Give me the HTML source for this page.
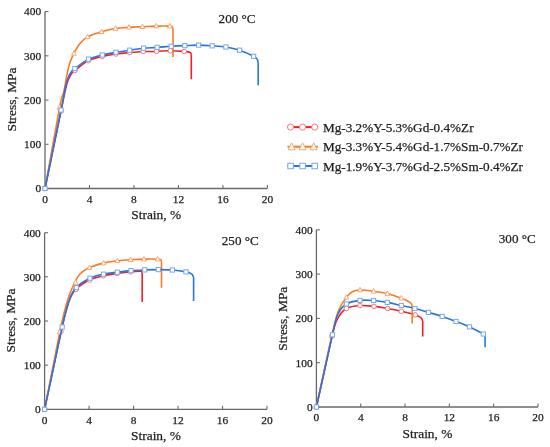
<!DOCTYPE html>
<html><head><meta charset="utf-8"><style>
html,body{margin:0;padding:0;background:#fff;}
svg{display:block;}
text{font-family:"Liberation Serif", "Times New Roman", serif;fill:#1e1e1e;stroke:#1e1e1e;stroke-width:0.25px;}
.tk{font-size:11.4px;}
.ax{font-size:13.4px;}
.tt{font-size:13.1px;}
.lg{font-size:13.2px;}
</style></head><body>
<svg width="550" height="447" viewBox="0 0 550 447">
<rect width="550" height="447" fill="#fff"/>
<path d="M45.00,11.60 L45.00,188.50 L267.40,188.50" fill="none" stroke="#6a6a6a" stroke-width="1.3"/>
<line x1="45.00" y1="188.50" x2="48.50" y2="188.50" stroke="#6a6a6a" stroke-width="1.1"/>
<text transform="translate(41.20,192.30) scale(1,1.000)" text-anchor="end" class="tk">0</text>
<line x1="45.00" y1="144.28" x2="48.50" y2="144.28" stroke="#6a6a6a" stroke-width="1.1"/>
<text transform="translate(41.20,148.08) scale(1,1.000)" text-anchor="end" class="tk">100</text>
<line x1="45.00" y1="100.05" x2="48.50" y2="100.05" stroke="#6a6a6a" stroke-width="1.1"/>
<text transform="translate(41.20,103.85) scale(1,1.000)" text-anchor="end" class="tk">200</text>
<line x1="45.00" y1="55.82" x2="48.50" y2="55.82" stroke="#6a6a6a" stroke-width="1.1"/>
<text transform="translate(41.20,59.62) scale(1,1.000)" text-anchor="end" class="tk">300</text>
<line x1="45.00" y1="11.60" x2="48.50" y2="11.60" stroke="#6a6a6a" stroke-width="1.1"/>
<text transform="translate(41.20,15.40) scale(1,1.000)" text-anchor="end" class="tk">400</text>
<line x1="45.00" y1="188.50" x2="45.00" y2="185.00" stroke="#6a6a6a" stroke-width="1.1"/>
<text transform="translate(45.00,202.80) scale(1,1.000)" text-anchor="middle" class="tk">0</text>
<line x1="89.48" y1="188.50" x2="89.48" y2="185.00" stroke="#6a6a6a" stroke-width="1.1"/>
<text transform="translate(89.48,202.80) scale(1,1.000)" text-anchor="middle" class="tk">4</text>
<line x1="133.96" y1="188.50" x2="133.96" y2="185.00" stroke="#6a6a6a" stroke-width="1.1"/>
<text transform="translate(133.96,202.80) scale(1,1.000)" text-anchor="middle" class="tk">8</text>
<line x1="178.44" y1="188.50" x2="178.44" y2="185.00" stroke="#6a6a6a" stroke-width="1.1"/>
<text transform="translate(178.44,202.80) scale(1,1.000)" text-anchor="middle" class="tk">12</text>
<line x1="222.92" y1="188.50" x2="222.92" y2="185.00" stroke="#6a6a6a" stroke-width="1.1"/>
<text transform="translate(222.92,202.80) scale(1,1.000)" text-anchor="middle" class="tk">16</text>
<line x1="267.40" y1="188.50" x2="267.40" y2="185.00" stroke="#6a6a6a" stroke-width="1.1"/>
<text transform="translate(267.40,202.80) scale(1,1.000)" text-anchor="middle" class="tk">20</text>
<text transform="translate(156.20,218.70) scale(1,1.000)" text-anchor="middle" class="ax">Strain, %</text>
<text transform="translate(15.70,99.55) rotate(-90) scale(1,1.000)" text-anchor="middle" class="ax">Stress, MPa</text>
<text transform="translate(218.60,22.90) scale(1,1.000)" text-anchor="start" class="tt">200 °C</text>
<path d="M45.00,188.50 L61.00,111.00 C64.27,95.17 63.60,98.08 64.60,93.50 C65.60,88.92 66.17,86.25 67.00,83.50 C67.83,80.75 68.73,78.78 69.60,77.00 C70.47,75.22 71.32,73.88 72.20,72.80 C73.08,71.72 72.22,72.53 74.90,70.50 C77.58,68.47 83.75,62.93 88.30,60.60 C92.85,58.27 97.60,57.60 102.20,56.50 C106.80,55.40 111.32,54.67 115.90,54.00 C120.48,53.33 125.17,52.92 129.70,52.50 C134.23,52.08 138.62,51.68 143.10,51.50 C147.58,51.32 152.05,51.53 156.60,51.40 C161.15,51.27 165.80,50.70 170.40,50.70 C175.00,50.70 180.95,51.13 184.20,51.40 C187.45,51.67 188.72,51.78 189.90,52.30 C191.08,52.82 191.07,54.13 191.30,54.50 M191.30,54.50 C191.30,58.63 191.30,75.17 191.30,79.30" fill="none" stroke="#fa1c24" stroke-width="1.60" stroke-linejoin="round" stroke-linecap="butt"/>
<circle cx="45.00" cy="188.50" r="2.30" fill="#fff" stroke="#f47a7a" stroke-width="1"/>
<circle cx="61.00" cy="111.00" r="2.30" fill="#fff" stroke="#f47a7a" stroke-width="1"/>
<circle cx="74.90" cy="70.50" r="2.30" fill="#fff" stroke="#f47a7a" stroke-width="1"/>
<circle cx="88.30" cy="60.60" r="2.30" fill="#fff" stroke="#f47a7a" stroke-width="1"/>
<circle cx="102.20" cy="56.50" r="2.30" fill="#fff" stroke="#f47a7a" stroke-width="1"/>
<circle cx="115.90" cy="54.00" r="2.30" fill="#fff" stroke="#f47a7a" stroke-width="1"/>
<circle cx="129.70" cy="52.50" r="2.30" fill="#fff" stroke="#f47a7a" stroke-width="1"/>
<circle cx="143.10" cy="51.50" r="2.30" fill="#fff" stroke="#f47a7a" stroke-width="1"/>
<circle cx="156.60" cy="51.40" r="2.30" fill="#fff" stroke="#f47a7a" stroke-width="1"/>
<circle cx="170.40" cy="50.70" r="2.30" fill="#fff" stroke="#f47a7a" stroke-width="1"/>
<circle cx="184.20" cy="51.40" r="2.30" fill="#fff" stroke="#f47a7a" stroke-width="1"/>
<path d="M45.00,188.50 L59.50,108.00 C62.62,91.90 62.55,97.19 63.75,91.90 C64.95,86.61 65.74,80.94 66.70,76.25 C67.66,71.56 68.30,67.56 69.50,63.75 C70.70,59.94 72.15,56.77 73.90,53.40 C75.65,50.02 77.72,46.25 80.00,43.50 C82.28,40.75 84.00,38.85 87.60,36.90 C91.20,34.95 96.95,33.20 101.60,31.80 C106.25,30.40 110.93,29.25 115.50,28.50 C120.07,27.75 124.52,27.60 129.00,27.30 C133.48,27.00 137.85,26.90 142.40,26.70 C146.95,26.50 151.72,26.20 156.30,26.10 C160.88,26.00 167.22,25.98 169.90,26.10 C172.58,26.22 171.88,26.32 172.40,26.80 C172.92,27.28 172.90,28.63 173.00,29.00 M173.00,29.00 C173.00,33.67 173.00,52.33 173.00,57.00" fill="none" stroke="#fb7a26" stroke-width="1.60" stroke-linejoin="round" stroke-linecap="butt"/>
<path d="M45.00,185.86 L47.40,190.26 L42.60,190.26 Z" fill="#fff" stroke="#f9a86a" stroke-width="1"/>
<path d="M59.50,104.86 L61.90,109.26 L57.10,109.26 Z" fill="#fff" stroke="#f9a86a" stroke-width="1"/>
<path d="M73.90,50.76 L76.30,55.16 L71.50,55.16 Z" fill="#fff" stroke="#f9a86a" stroke-width="1"/>
<path d="M87.60,34.26 L90.00,38.66 L85.20,38.66 Z" fill="#fff" stroke="#f9a86a" stroke-width="1"/>
<path d="M101.60,29.16 L104.00,33.56 L99.20,33.56 Z" fill="#fff" stroke="#f9a86a" stroke-width="1"/>
<path d="M115.50,25.86 L117.90,30.26 L113.10,30.26 Z" fill="#fff" stroke="#f9a86a" stroke-width="1"/>
<path d="M129.00,24.66 L131.40,29.06 L126.60,29.06 Z" fill="#fff" stroke="#f9a86a" stroke-width="1"/>
<path d="M142.40,24.06 L144.80,28.46 L140.00,28.46 Z" fill="#fff" stroke="#f9a86a" stroke-width="1"/>
<path d="M156.30,23.46 L158.70,27.86 L153.90,27.86 Z" fill="#fff" stroke="#f9a86a" stroke-width="1"/>
<path d="M169.90,23.46 L172.30,27.86 L167.50,27.86 Z" fill="#fff" stroke="#f9a86a" stroke-width="1"/>
<path d="M45.00,188.50 L61.10,110.10 C64.33,94.02 63.47,96.68 64.40,92.00 C65.33,87.32 65.88,84.80 66.70,82.00 C67.52,79.20 68.42,77.03 69.30,75.20 C70.18,73.37 71.07,72.10 72.00,71.00 C72.93,69.90 72.15,70.58 74.90,68.60 C77.65,66.62 83.93,61.37 88.50,59.10 C93.07,56.83 97.73,56.13 102.30,55.00 C106.87,53.87 111.33,53.10 115.90,52.30 C120.47,51.50 125.08,50.88 129.70,50.20 C134.32,49.52 139.03,48.67 143.60,48.20 C148.17,47.73 152.50,47.72 157.10,47.40 C161.70,47.08 166.58,46.60 171.20,46.30 C175.82,46.00 180.23,45.80 184.80,45.60 C189.37,45.40 194.03,45.07 198.60,45.10 C203.17,45.13 207.65,45.48 212.20,45.80 C216.75,46.12 221.33,46.27 225.90,47.00 C230.47,47.73 234.98,48.65 239.60,50.20 C244.22,51.75 250.65,54.75 253.60,56.30 C256.55,57.85 256.53,58.30 257.30,59.50 C258.07,60.70 258.05,62.83 258.20,63.50 M258.20,63.50 C258.20,67.13 258.20,81.67 258.20,85.30" fill="none" stroke="#2876dc" stroke-width="1.60" stroke-linejoin="round" stroke-linecap="butt"/>
<rect x="42.90" y="186.40" width="4.20" height="4.20" fill="#fff" stroke="#78a8ea" stroke-width="1"/>
<rect x="59.00" y="108.00" width="4.20" height="4.20" fill="#fff" stroke="#78a8ea" stroke-width="1"/>
<rect x="72.80" y="66.50" width="4.20" height="4.20" fill="#fff" stroke="#78a8ea" stroke-width="1"/>
<rect x="86.40" y="57.00" width="4.20" height="4.20" fill="#fff" stroke="#78a8ea" stroke-width="1"/>
<rect x="100.20" y="52.90" width="4.20" height="4.20" fill="#fff" stroke="#78a8ea" stroke-width="1"/>
<rect x="113.80" y="50.20" width="4.20" height="4.20" fill="#fff" stroke="#78a8ea" stroke-width="1"/>
<rect x="127.60" y="48.10" width="4.20" height="4.20" fill="#fff" stroke="#78a8ea" stroke-width="1"/>
<rect x="141.50" y="46.10" width="4.20" height="4.20" fill="#fff" stroke="#78a8ea" stroke-width="1"/>
<rect x="155.00" y="45.30" width="4.20" height="4.20" fill="#fff" stroke="#78a8ea" stroke-width="1"/>
<rect x="169.10" y="44.20" width="4.20" height="4.20" fill="#fff" stroke="#78a8ea" stroke-width="1"/>
<rect x="182.70" y="43.50" width="4.20" height="4.20" fill="#fff" stroke="#78a8ea" stroke-width="1"/>
<rect x="196.50" y="43.00" width="4.20" height="4.20" fill="#fff" stroke="#78a8ea" stroke-width="1"/>
<rect x="210.10" y="43.70" width="4.20" height="4.20" fill="#fff" stroke="#78a8ea" stroke-width="1"/>
<rect x="223.80" y="44.90" width="4.20" height="4.20" fill="#fff" stroke="#78a8ea" stroke-width="1"/>
<rect x="237.50" y="48.10" width="4.20" height="4.20" fill="#fff" stroke="#78a8ea" stroke-width="1"/>
<rect x="251.50" y="54.20" width="4.20" height="4.20" fill="#fff" stroke="#78a8ea" stroke-width="1"/>
<path d="M44.60,232.70 L44.60,409.30 L267.00,409.30" fill="none" stroke="#6a6a6a" stroke-width="1.3"/>
<line x1="44.60" y1="409.30" x2="48.10" y2="409.30" stroke="#6a6a6a" stroke-width="1.1"/>
<text transform="translate(40.80,413.10) scale(1,1.000)" text-anchor="end" class="tk">0</text>
<line x1="44.60" y1="365.15" x2="48.10" y2="365.15" stroke="#6a6a6a" stroke-width="1.1"/>
<text transform="translate(40.80,368.95) scale(1,1.000)" text-anchor="end" class="tk">100</text>
<line x1="44.60" y1="321.00" x2="48.10" y2="321.00" stroke="#6a6a6a" stroke-width="1.1"/>
<text transform="translate(40.80,324.80) scale(1,1.000)" text-anchor="end" class="tk">200</text>
<line x1="44.60" y1="276.85" x2="48.10" y2="276.85" stroke="#6a6a6a" stroke-width="1.1"/>
<text transform="translate(40.80,280.65) scale(1,1.000)" text-anchor="end" class="tk">300</text>
<line x1="44.60" y1="232.70" x2="48.10" y2="232.70" stroke="#6a6a6a" stroke-width="1.1"/>
<text transform="translate(40.80,236.50) scale(1,1.000)" text-anchor="end" class="tk">400</text>
<line x1="44.60" y1="409.30" x2="44.60" y2="405.80" stroke="#6a6a6a" stroke-width="1.1"/>
<text transform="translate(44.60,423.60) scale(1,1.000)" text-anchor="middle" class="tk">0</text>
<line x1="89.08" y1="409.30" x2="89.08" y2="405.80" stroke="#6a6a6a" stroke-width="1.1"/>
<text transform="translate(89.08,423.60) scale(1,1.000)" text-anchor="middle" class="tk">4</text>
<line x1="133.56" y1="409.30" x2="133.56" y2="405.80" stroke="#6a6a6a" stroke-width="1.1"/>
<text transform="translate(133.56,423.60) scale(1,1.000)" text-anchor="middle" class="tk">8</text>
<line x1="178.04" y1="409.30" x2="178.04" y2="405.80" stroke="#6a6a6a" stroke-width="1.1"/>
<text transform="translate(178.04,423.60) scale(1,1.000)" text-anchor="middle" class="tk">12</text>
<line x1="222.52" y1="409.30" x2="222.52" y2="405.80" stroke="#6a6a6a" stroke-width="1.1"/>
<text transform="translate(222.52,423.60) scale(1,1.000)" text-anchor="middle" class="tk">16</text>
<line x1="267.00" y1="409.30" x2="267.00" y2="405.80" stroke="#6a6a6a" stroke-width="1.1"/>
<text transform="translate(267.00,423.60) scale(1,1.000)" text-anchor="middle" class="tk">20</text>
<text transform="translate(156.00,440.00) scale(1,1.000)" text-anchor="middle" class="ax">Strain, %</text>
<text transform="translate(14.80,320.50) rotate(-90) scale(1,1.000)" text-anchor="middle" class="ax">Stress, MPa</text>
<text transform="translate(221.80,245.10) scale(1,1.000)" text-anchor="start" class="tt">250 °C</text>
<path d="M44.60,409.30 L61.00,331.50 C65.03,313.62 66.37,309.00 68.80,302.00 C71.23,295.00 72.15,293.17 75.60,289.50 C79.05,285.83 84.90,282.28 89.50,280.00 C94.10,277.72 98.62,276.88 103.20,275.80 C107.78,274.72 112.45,274.17 117.00,273.50 C121.55,272.83 126.58,272.18 130.50,271.80 C134.42,271.42 138.55,271.00 140.50,271.20 C142.45,271.40 141.92,272.70 142.20,273.00 M142.20,273.00 C142.20,277.83 142.20,297.17 142.20,302.00" fill="none" stroke="#fa1c24" stroke-width="1.60" stroke-linejoin="round" stroke-linecap="butt"/>
<circle cx="44.60" cy="409.30" r="2.30" fill="#fff" stroke="#f47a7a" stroke-width="1"/>
<circle cx="61.00" cy="331.50" r="2.30" fill="#fff" stroke="#f47a7a" stroke-width="1"/>
<circle cx="75.80" cy="289.50" r="2.30" fill="#fff" stroke="#f47a7a" stroke-width="1"/>
<circle cx="89.50" cy="280.00" r="2.30" fill="#fff" stroke="#f47a7a" stroke-width="1"/>
<circle cx="103.20" cy="275.80" r="2.30" fill="#fff" stroke="#f47a7a" stroke-width="1"/>
<circle cx="117.00" cy="273.50" r="2.30" fill="#fff" stroke="#f47a7a" stroke-width="1"/>
<circle cx="130.50" cy="271.80" r="2.30" fill="#fff" stroke="#f47a7a" stroke-width="1"/>
<path d="M44.60,409.30 L59.80,332.00 C63.62,313.83 65.05,308.47 67.50,300.30 C69.95,292.13 72.42,287.38 74.50,283.00 C76.58,278.62 77.50,276.57 80.00,274.00 C82.50,271.43 85.57,269.42 89.50,267.60 C93.43,265.78 98.97,264.22 103.60,263.10 C108.23,261.98 112.80,261.47 117.30,260.90 C121.80,260.33 126.17,260.00 130.60,259.70 C135.03,259.40 139.40,259.18 143.90,259.10 C148.40,259.02 154.78,259.07 157.60,259.20 C160.42,259.33 160.15,259.43 160.80,259.90 C161.45,260.37 161.38,261.65 161.50,262.00 M161.50,262.00 C161.50,266.28 161.50,283.42 161.50,287.70" fill="none" stroke="#fb7a26" stroke-width="1.60" stroke-linejoin="round" stroke-linecap="butt"/>
<path d="M44.60,406.66 L47.00,411.06 L42.20,411.06 Z" fill="#fff" stroke="#f9a86a" stroke-width="1"/>
<path d="M59.80,329.36 L62.20,333.76 L57.40,333.76 Z" fill="#fff" stroke="#f9a86a" stroke-width="1"/>
<path d="M75.50,279.76 L77.90,284.16 L73.10,284.16 Z" fill="#fff" stroke="#f9a86a" stroke-width="1"/>
<path d="M89.50,264.96 L91.90,269.36 L87.10,269.36 Z" fill="#fff" stroke="#f9a86a" stroke-width="1"/>
<path d="M103.60,260.46 L106.00,264.86 L101.20,264.86 Z" fill="#fff" stroke="#f9a86a" stroke-width="1"/>
<path d="M117.30,258.26 L119.70,262.66 L114.90,262.66 Z" fill="#fff" stroke="#f9a86a" stroke-width="1"/>
<path d="M130.60,257.06 L133.00,261.46 L128.20,261.46 Z" fill="#fff" stroke="#f9a86a" stroke-width="1"/>
<path d="M143.90,256.46 L146.30,260.86 L141.50,260.86 Z" fill="#fff" stroke="#f9a86a" stroke-width="1"/>
<path d="M157.60,256.56 L160.00,260.96 L155.20,260.96 Z" fill="#fff" stroke="#f9a86a" stroke-width="1"/>
<path d="M44.60,409.30 L62.20,327.00 C66.32,308.78 67.00,306.57 69.30,300.00 C71.60,293.43 72.55,291.23 76.00,287.60 C79.45,283.97 85.40,280.43 90.00,278.20 C94.60,275.97 99.05,275.20 103.60,274.20 C108.15,273.20 112.73,272.80 117.30,272.20 C121.87,271.60 126.43,270.98 131.00,270.60 C135.57,270.22 140.15,270.07 144.70,269.90 C149.25,269.73 153.68,269.58 158.30,269.60 C162.92,269.62 167.78,269.62 172.40,270.00 C177.02,270.38 182.82,271.27 186.00,271.90 C189.18,272.53 190.23,272.95 191.50,273.80 C192.77,274.65 193.25,276.47 193.60,277.00 M193.60,277.00 C193.60,280.98 193.60,296.92 193.60,300.90" fill="none" stroke="#2876dc" stroke-width="1.60" stroke-linejoin="round" stroke-linecap="butt"/>
<rect x="42.50" y="407.20" width="4.20" height="4.20" fill="#fff" stroke="#78a8ea" stroke-width="1"/>
<rect x="60.10" y="324.90" width="4.20" height="4.20" fill="#fff" stroke="#78a8ea" stroke-width="1"/>
<rect x="74.30" y="285.50" width="4.20" height="4.20" fill="#fff" stroke="#78a8ea" stroke-width="1"/>
<rect x="87.90" y="276.10" width="4.20" height="4.20" fill="#fff" stroke="#78a8ea" stroke-width="1"/>
<rect x="101.50" y="272.10" width="4.20" height="4.20" fill="#fff" stroke="#78a8ea" stroke-width="1"/>
<rect x="115.20" y="270.10" width="4.20" height="4.20" fill="#fff" stroke="#78a8ea" stroke-width="1"/>
<rect x="128.90" y="268.50" width="4.20" height="4.20" fill="#fff" stroke="#78a8ea" stroke-width="1"/>
<rect x="142.60" y="267.80" width="4.20" height="4.20" fill="#fff" stroke="#78a8ea" stroke-width="1"/>
<rect x="156.20" y="267.50" width="4.20" height="4.20" fill="#fff" stroke="#78a8ea" stroke-width="1"/>
<rect x="170.30" y="267.90" width="4.20" height="4.20" fill="#fff" stroke="#78a8ea" stroke-width="1"/>
<rect x="183.90" y="269.80" width="4.20" height="4.20" fill="#fff" stroke="#78a8ea" stroke-width="1"/>
<path d="M316.40,229.80 L316.40,407.00 L538.00,407.00" fill="none" stroke="#6a6a6a" stroke-width="1.3"/>
<line x1="316.40" y1="407.00" x2="319.90" y2="407.00" stroke="#6a6a6a" stroke-width="1.1"/>
<text transform="translate(312.60,410.80) scale(1,1.000)" text-anchor="end" class="tk">0</text>
<line x1="316.40" y1="362.70" x2="319.90" y2="362.70" stroke="#6a6a6a" stroke-width="1.1"/>
<text transform="translate(312.60,366.50) scale(1,1.000)" text-anchor="end" class="tk">100</text>
<line x1="316.40" y1="318.40" x2="319.90" y2="318.40" stroke="#6a6a6a" stroke-width="1.1"/>
<text transform="translate(312.60,322.20) scale(1,1.000)" text-anchor="end" class="tk">200</text>
<line x1="316.40" y1="274.10" x2="319.90" y2="274.10" stroke="#6a6a6a" stroke-width="1.1"/>
<text transform="translate(312.60,277.90) scale(1,1.000)" text-anchor="end" class="tk">300</text>
<line x1="316.40" y1="229.80" x2="319.90" y2="229.80" stroke="#6a6a6a" stroke-width="1.1"/>
<text transform="translate(312.60,233.60) scale(1,1.000)" text-anchor="end" class="tk">400</text>
<line x1="316.40" y1="407.00" x2="316.40" y2="403.50" stroke="#6a6a6a" stroke-width="1.1"/>
<text transform="translate(316.40,421.30) scale(1,1.000)" text-anchor="middle" class="tk">0</text>
<line x1="360.72" y1="407.00" x2="360.72" y2="403.50" stroke="#6a6a6a" stroke-width="1.1"/>
<text transform="translate(360.72,421.30) scale(1,1.000)" text-anchor="middle" class="tk">4</text>
<line x1="405.04" y1="407.00" x2="405.04" y2="403.50" stroke="#6a6a6a" stroke-width="1.1"/>
<text transform="translate(405.04,421.30) scale(1,1.000)" text-anchor="middle" class="tk">8</text>
<line x1="449.36" y1="407.00" x2="449.36" y2="403.50" stroke="#6a6a6a" stroke-width="1.1"/>
<text transform="translate(449.36,421.30) scale(1,1.000)" text-anchor="middle" class="tk">12</text>
<line x1="493.68" y1="407.00" x2="493.68" y2="403.50" stroke="#6a6a6a" stroke-width="1.1"/>
<text transform="translate(493.68,421.30) scale(1,1.000)" text-anchor="middle" class="tk">16</text>
<line x1="538.00" y1="407.00" x2="538.00" y2="403.50" stroke="#6a6a6a" stroke-width="1.1"/>
<text transform="translate(538.00,421.30) scale(1,1.000)" text-anchor="middle" class="tk">20</text>
<text transform="translate(427.50,437.80) scale(1,1.000)" text-anchor="middle" class="ax">Strain, %</text>
<text transform="translate(286.80,318.70) rotate(-90) scale(1,1.000)" text-anchor="middle" class="ax">Stress, MPa</text>
<text transform="translate(498.80,243.00) scale(1,1.000)" text-anchor="start" class="tt">300 °C</text>
<path d="M316.40,407.00 L332.00,336.00 C335.60,321.17 335.60,322.58 338.00,318.00 C340.40,313.42 342.73,310.58 346.40,308.50 C350.07,306.42 355.40,305.85 360.00,305.50 C364.60,305.15 369.40,305.90 374.00,306.40 C378.60,306.90 383.05,307.68 387.60,308.50 C392.15,309.32 396.70,310.23 401.30,311.30 C405.90,312.37 411.95,313.87 415.20,314.90 C418.45,315.93 419.55,316.48 420.80,317.50 C422.05,318.52 422.38,320.42 422.70,321.00 M422.70,321.00 C422.70,323.57 422.70,333.83 422.70,336.40" fill="none" stroke="#fa1c24" stroke-width="1.60" stroke-linejoin="round" stroke-linecap="butt"/>
<circle cx="316.40" cy="407.00" r="2.30" fill="#fff" stroke="#f47a7a" stroke-width="1"/>
<circle cx="332.00" cy="336.00" r="2.30" fill="#fff" stroke="#f47a7a" stroke-width="1"/>
<circle cx="346.40" cy="308.50" r="2.30" fill="#fff" stroke="#f47a7a" stroke-width="1"/>
<circle cx="360.00" cy="305.50" r="2.30" fill="#fff" stroke="#f47a7a" stroke-width="1"/>
<circle cx="374.00" cy="306.40" r="2.30" fill="#fff" stroke="#f47a7a" stroke-width="1"/>
<circle cx="387.60" cy="308.50" r="2.30" fill="#fff" stroke="#f47a7a" stroke-width="1"/>
<circle cx="401.30" cy="311.30" r="2.30" fill="#fff" stroke="#f47a7a" stroke-width="1"/>
<circle cx="415.20" cy="314.90" r="2.30" fill="#fff" stroke="#f47a7a" stroke-width="1"/>
<path d="M316.40,407.00 L331.80,335.50 C335.40,319.67 335.57,318.37 338.00,312.00 C340.43,305.63 344.07,300.63 346.40,297.30 C348.73,293.97 349.73,293.22 352.00,292.00 C354.27,290.78 356.40,290.12 360.00,290.00 C363.60,289.88 369.05,290.70 373.60,291.30 C378.15,291.90 382.68,292.45 387.30,293.60 C391.92,294.75 397.52,296.75 401.30,298.20 C405.08,299.65 408.18,301.08 410.00,302.30 C411.82,303.52 411.83,304.97 412.20,305.50 M412.20,305.50 C412.20,308.52 412.20,320.58 412.20,323.60" fill="none" stroke="#fb7a26" stroke-width="1.60" stroke-linejoin="round" stroke-linecap="butt"/>
<path d="M316.40,404.36 L318.80,408.76 L314.00,408.76 Z" fill="#fff" stroke="#f9a86a" stroke-width="1"/>
<path d="M331.80,332.86 L334.20,337.26 L329.40,337.26 Z" fill="#fff" stroke="#f9a86a" stroke-width="1"/>
<path d="M346.40,294.66 L348.80,299.06 L344.00,299.06 Z" fill="#fff" stroke="#f9a86a" stroke-width="1"/>
<path d="M360.00,287.36 L362.40,291.76 L357.60,291.76 Z" fill="#fff" stroke="#f9a86a" stroke-width="1"/>
<path d="M373.60,288.66 L376.00,293.06 L371.20,293.06 Z" fill="#fff" stroke="#f9a86a" stroke-width="1"/>
<path d="M387.30,290.96 L389.70,295.36 L384.90,295.36 Z" fill="#fff" stroke="#f9a86a" stroke-width="1"/>
<path d="M401.30,295.56 L403.70,299.96 L398.90,299.96 Z" fill="#fff" stroke="#f9a86a" stroke-width="1"/>
<path d="M316.40,407.00 L332.40,334.80 C336.00,319.30 335.67,319.13 338.00,314.00 C340.33,308.87 342.73,306.27 346.40,304.00 C350.07,301.73 355.47,300.98 360.00,300.40 C364.53,299.82 369.05,300.17 373.60,300.50 C378.15,300.83 382.68,301.57 387.30,302.40 C391.92,303.23 396.70,304.48 401.30,305.50 C405.90,306.52 410.37,307.35 414.90,308.50 C419.43,309.65 423.95,311.08 428.50,312.40 C433.05,313.72 437.62,314.88 442.20,316.40 C446.78,317.92 451.45,319.75 456.00,321.50 C460.55,323.25 464.95,324.82 469.50,326.90 C474.05,328.98 480.70,332.32 483.30,334.00 C485.90,335.68 484.80,336.50 485.10,337.00 M485.10,337.00 C485.10,338.72 485.10,345.58 485.10,347.30" fill="none" stroke="#2876dc" stroke-width="1.60" stroke-linejoin="round" stroke-linecap="butt"/>
<rect x="314.30" y="404.90" width="4.20" height="4.20" fill="#fff" stroke="#78a8ea" stroke-width="1"/>
<rect x="330.30" y="332.70" width="4.20" height="4.20" fill="#fff" stroke="#78a8ea" stroke-width="1"/>
<rect x="344.30" y="301.90" width="4.20" height="4.20" fill="#fff" stroke="#78a8ea" stroke-width="1"/>
<rect x="357.90" y="298.30" width="4.20" height="4.20" fill="#fff" stroke="#78a8ea" stroke-width="1"/>
<rect x="371.50" y="298.40" width="4.20" height="4.20" fill="#fff" stroke="#78a8ea" stroke-width="1"/>
<rect x="385.20" y="300.30" width="4.20" height="4.20" fill="#fff" stroke="#78a8ea" stroke-width="1"/>
<rect x="399.20" y="303.40" width="4.20" height="4.20" fill="#fff" stroke="#78a8ea" stroke-width="1"/>
<rect x="412.80" y="306.40" width="4.20" height="4.20" fill="#fff" stroke="#78a8ea" stroke-width="1"/>
<rect x="426.40" y="310.30" width="4.20" height="4.20" fill="#fff" stroke="#78a8ea" stroke-width="1"/>
<rect x="440.10" y="314.30" width="4.20" height="4.20" fill="#fff" stroke="#78a8ea" stroke-width="1"/>
<rect x="453.90" y="319.40" width="4.20" height="4.20" fill="#fff" stroke="#78a8ea" stroke-width="1"/>
<rect x="467.40" y="324.80" width="4.20" height="4.20" fill="#fff" stroke="#78a8ea" stroke-width="1"/>
<rect x="481.20" y="331.90" width="4.20" height="4.20" fill="#fff" stroke="#78a8ea" stroke-width="1"/>
<line x1="287.5" y1="127.10" x2="317.8" y2="127.10" stroke="#fa1c24" stroke-width="2.0"/>
<circle cx="290.60" cy="127.10" r="3.10" fill="#fff" stroke="#f47a7a" stroke-width="1"/>
<circle cx="302.60" cy="127.10" r="3.10" fill="#fff" stroke="#f47a7a" stroke-width="1"/>
<circle cx="314.70" cy="127.10" r="3.10" fill="#fff" stroke="#f47a7a" stroke-width="1"/>
<text transform="translate(323.00,131.60) scale(1,1.000)" text-anchor="start" class="lg">Mg-3.2%Y-5.3%Gd-0.4%Zr</text>
<line x1="287.5" y1="146.70" x2="317.8" y2="146.70" stroke="#fb7a26" stroke-width="2.0"/>
<path d="M291.60,142.80 L295.10,149.80 L288.10,149.80 Z" fill="#fff" stroke="#f9a86a" stroke-width="1"/>
<path d="M302.60,142.80 L306.10,149.80 L299.10,149.80 Z" fill="#fff" stroke="#f9a86a" stroke-width="1"/>
<path d="M313.70,142.80 L317.20,149.80 L310.20,149.80 Z" fill="#fff" stroke="#f9a86a" stroke-width="1"/>
<text transform="translate(323.00,151.00) scale(1,1.000)" text-anchor="start" class="lg">Mg-3.3%Y-5.4%Gd-1.7%Sm-0.7%Zr</text>
<line x1="287.5" y1="166.00" x2="317.8" y2="166.00" stroke="#2876dc" stroke-width="2.0"/>
<rect x="287.85" y="163.25" width="5.50" height="5.50" fill="#fff" stroke="#78a8ea" stroke-width="1"/>
<rect x="299.85" y="163.25" width="5.50" height="5.50" fill="#fff" stroke="#78a8ea" stroke-width="1"/>
<rect x="311.95" y="163.25" width="5.50" height="5.50" fill="#fff" stroke="#78a8ea" stroke-width="1"/>
<text transform="translate(323.00,170.80) scale(1,1.000)" text-anchor="start" class="lg">Mg-1.9%Y-3.7%Gd-2.5%Sm-0.4%Zr</text>
</svg>
</body></html>
